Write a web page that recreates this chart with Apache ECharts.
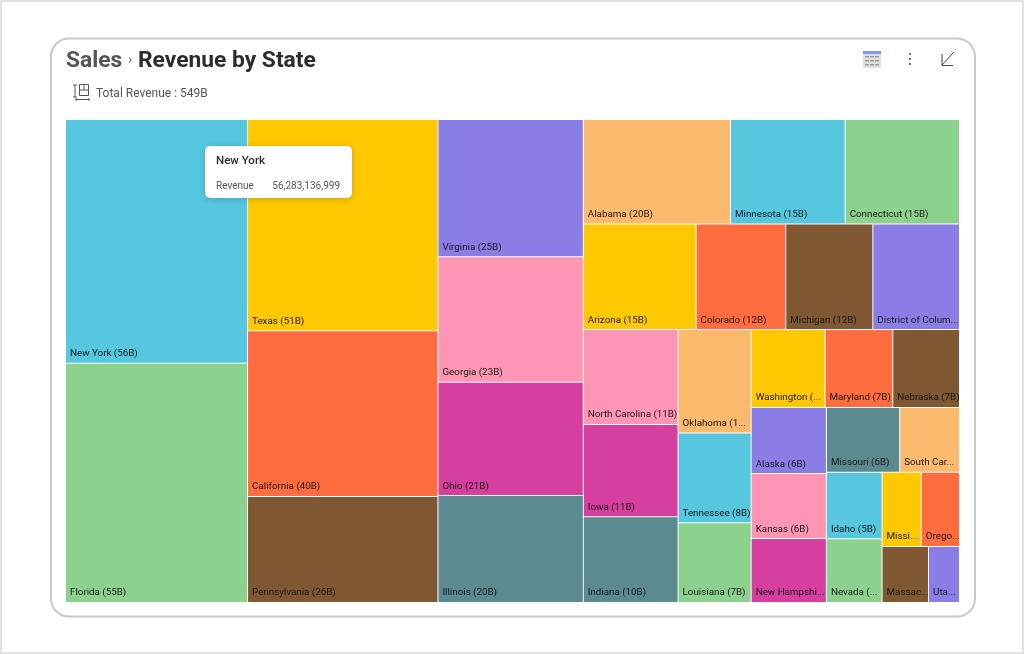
<!DOCTYPE html>
<html>
<head>
<meta charset="utf-8">
<title>Revenue by State</title>
<style>
html, body { margin: 0; padding: 0; background: #fff; }
#chart { width: 1024px; height: 654px; }
</style>
<script src="https://cdn.jsdelivr.net/npm/echarts@6/dist/echarts.min.js"></script>
</head>
<body>
<div id="chart"></div>
<script>
// states in the order of the picture (biggest first), revenue in billions
var states = ["New York", "Florida", "Texas", "California", "Pennsylvania", "Virginia", "Georgia", "Ohio", "Illinois", "Alabama",
    "Minnesota", "Connecticut", "Arizona", "Colorado", "Michigan", "District of Columbia", "North Carolina", "Iowa", "Indiana", "Oklahoma",
    "Tennessee", "Louisiana", "Washington", "Maryland", "Nebraska", "Alaska", "Kansas", "New Hampshire", "Missouri", "South Carolina",
    "Idaho", "Nevada", "Mississippi", "Oregon", "Massachusetts", "Utah"];
// no two equal values, the treemap sort would swap them
var revenue = [56.283136999, 55.2, 51.0, 40.0, 25.6, 25.3, 23.1, 20.9, 19.7, 19.5,
    15.2, 15.15, 15.1, 12.0, 11.65, 11.6, 11.4, 11.1, 10.3, 9.6,
    8.3, 7.4, 7.3, 6.7, 6.6, 6.3, 6.2, 6.1, 6.0, 4.9,
    4.7, 4.5, 3.7, 3.6, 3.3, 2.2];
var palette = ["#56c7df", "#8dd18e", "#ffc800", "#ff6c40", "#7f5733", "#8b7de6", "#ff95b4", "#d63f9f", "#5b8a90", "#fbb96e"];
var totalLabel = "Total Revenue : 549B";
var tipState = "New York";
var tipValue = "56,283,136,999";

var treeData = [];
for (var i = 0; i < states.length; i++) {
    treeData.push({ name: states[i], value: revenue[i] });
}

var option = {
    animation: false,
    textStyle: { fontFamily: "Roboto" },
    series: [{
        type: "treemap",
        left: 66,
        top: 120,
        width: 893,
        height: 482,
        roam: false,
        nodeClick: false,
        silent: true,
        breadcrumb: { show: false },
        squareRatio: 1,
        sort: "desc",
        data: treeData,
        label: {
            show: true,
            position: "insideBottomLeft",
            distance: 4,
            padding: [0, 2, 0, 0],
            color: "#1a1a1a",
            fontFamily: "Roboto",
            fontSize: 9.8,
            overflow: "truncate",
            ellipsis: "...",
            formatter: function (p) {
                return p.name + " (" + Math.round(p.value) + "B)";
            }
        },
        upperLabel: { show: false },
        levels: [{
            color: palette,
            colorMappingBy: "index",
            itemStyle: { borderWidth: 0, gapWidth: 1, borderColor: "#fff" }
        }, {
            itemStyle: { borderWidth: 0, gapWidth: 0 }
        }]
    }],
    graphic: [
        // page edge and card
        { type: "rect", z: -1, shape: { x: 1, y: 1, width: 1022, height: 652 }, style: { fill: "#fff", stroke: "#e2e2e2", lineWidth: 2 } },
        { type: "rect", z: -1, shape: { x: 51, y: 38.5, width: 924, height: 578, r: 18 }, style: { fill: "#fff", stroke: "#c9c9c9", lineWidth: 2 } },

        // title
        { type: "text", x: 66, y: 61, style: { text: "Sales", fill: "#555", font: "700 22.8px Roboto", textVerticalAlign: "middle" } },
        { type: "text", x: 128, y: 60, style: { text: "›", fill: "#666", font: "14px Roboto", textVerticalAlign: "middle" } },
        { type: "text", x: 138, y: 61, style: { text: "Revenue by State", fill: "#2b2b2b", font: "700 22.8px Roboto", textVerticalAlign: "middle" } },
        { type: "text", x: 96, y: 94, style: { text: totalLabel, fill: "#555", font: "12px Roboto", textVerticalAlign: "middle" } },

        // treemap icon in front of the total
        { type: "polyline", shape: { points: [[73, 85], [77, 85]] }, style: { stroke: "#555", lineWidth: 1, fill: null } },
        { type: "polyline", shape: { points: [[75, 85], [75, 97]] }, style: { stroke: "#555", lineWidth: 1, fill: null } },
        { type: "polyline", shape: { points: [[73, 97], [77, 97]] }, style: { stroke: "#555", lineWidth: 1, fill: null } },
        { type: "rect", shape: { x: 79.5, y: 84.5, width: 9, height: 11 }, style: { fill: null, stroke: "#555", lineWidth: 1 } },
        { type: "polyline", shape: { points: [[79.5, 90], [88.5, 90]] }, style: { stroke: "#555", lineWidth: 1, fill: null } },
        { type: "polyline", shape: { points: [[84, 84.5], [84, 90]] }, style: { stroke: "#555", lineWidth: 1, fill: null } },
        { type: "polyline", shape: { points: [[76, 99.5], [89, 99.5]] }, style: { stroke: "#555", lineWidth: 1, fill: null } },
        { type: "polyline", shape: { points: [[76, 98], [76, 101]] }, style: { stroke: "#555", lineWidth: 1, fill: null } },
        { type: "polyline", shape: { points: [[89, 98], [89, 101]] }, style: { stroke: "#555", lineWidth: 1, fill: null } },

        // toolbar icons
        { type: "rect", shape: { x: 863, y: 51, width: 18, height: 17 }, style: { fill: "#e0e0e0" } },
        { type: "rect", shape: { x: 863, y: 51, width: 18, height: 3 }, style: { fill: "#8296ee" } },
        { type: "rect", shape: { x: 865, y: 56, width: 4, height: 1.5 }, style: { fill: "#9a9a9a" } },
        { type: "rect", shape: { x: 870, y: 56, width: 4, height: 1.5 }, style: { fill: "#9a9a9a" } },
        { type: "rect", shape: { x: 875, y: 56, width: 4, height: 1.5 }, style: { fill: "#9a9a9a" } },
        { type: "rect", shape: { x: 865, y: 60, width: 4, height: 1.5 }, style: { fill: "#9a9a9a" } },
        { type: "rect", shape: { x: 870, y: 60, width: 4, height: 1.5 }, style: { fill: "#9a9a9a" } },
        { type: "rect", shape: { x: 875, y: 60, width: 4, height: 1.5 }, style: { fill: "#9a9a9a" } },
        { type: "rect", shape: { x: 865, y: 64, width: 4, height: 1.5 }, style: { fill: "#9a9a9a" } },
        { type: "rect", shape: { x: 870, y: 64, width: 4, height: 1.5 }, style: { fill: "#9a9a9a" } },
        { type: "rect", shape: { x: 875, y: 64, width: 4, height: 1.5 }, style: { fill: "#9a9a9a" } },
        { type: "circle", shape: { cx: 910, cy: 54, r: 1 }, style: { fill: "#444" } },
        { type: "circle", shape: { cx: 910, cy: 59, r: 1 }, style: { fill: "#444" } },
        { type: "circle", shape: { cx: 910, cy: 64, r: 1 }, style: { fill: "#444" } },
        { type: "polyline", shape: { points: [[954, 52], [942, 65]] }, style: { stroke: "#444", lineWidth: 1, fill: null } },
        { type: "polyline", shape: { points: [[942, 54], [942, 65.5], [953, 65.5]] }, style: { stroke: "#444", lineWidth: 1, fill: null } },

        // tooltip shown over New York
        { type: "rect", z: 100, shape: { x: 205, y: 146, width: 147, height: 52, r: 5 },
            style: { fill: "#fff", shadowBlur: 6, shadowColor: "rgba(0,0,0,0.2)", shadowOffsetY: 1 } },
        { type: "text", z: 101, x: 216, y: 161, style: { text: tipState, fill: "#2b2b2b", font: "500 11.5px Roboto", textVerticalAlign: "middle" } },
        { type: "text", z: 101, x: 216, y: 186.5, style: { text: "Revenue", fill: "#555", font: "10px Roboto", textVerticalAlign: "middle" } },
        { type: "text", z: 101, x: 340, y: 186.5, style: { text: tipValue, fill: "#555", font: "10px Roboto", textAlign: "right", textVerticalAlign: "middle" } }
    ]
};

var myChart = echarts.init(document.getElementById("chart"));
myChart.setOption(option);
</script>
</body>
</html>
